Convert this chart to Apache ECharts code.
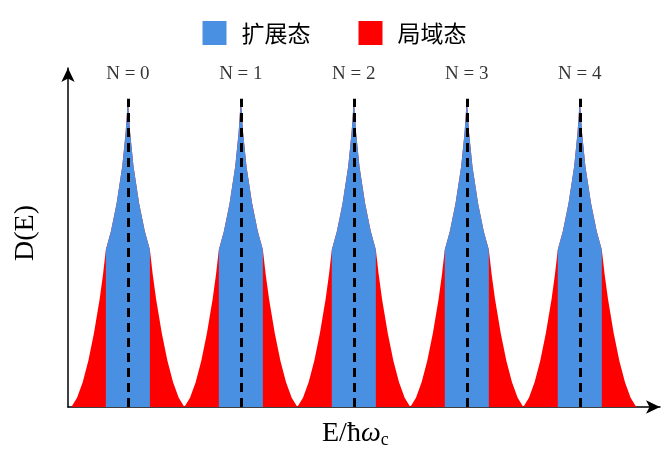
<!DOCTYPE html>
<html>
<head>
<meta charset="utf-8">
<script src="https://cdn.jsdelivr.net/npm/echarts@6/dist/echarts.min.js"></script>
<style>html,body{margin:0;background:#fff}#c{width:669px;height:467px}</style>
</head>
<body>
<div id="c"></div>
<script>
// peak centres (Landau levels)
var levels = [0, 1, 2, 3, 4];
var levelLabels = ['N = 0', 'N = 1', 'N = 2', 'N = 3', 'N = 4'];
// one side of a peak profile
var offsets = [0, 0.02, 0.05, 0.1, 0.15, 0.195, 0.22, 0.25, 0.3, 0.35, 0.4, 0.45, 0.5];
var heights = [1, 0.89, 0.78, 0.66, 0.57, 0.51, 0.43, 0.35, 0.24, 0.15, 0.08, 0.03, 0];
var mobilityEdge = 0.195;

function buildPeak(center, inner) {
    var pts = [];
    for (var i = offsets.length - 1; i >= 0; i--) {
        if (!inner || offsets[i] <= mobilityEdge) pts.push([center - offsets[i], heights[i]]);
    }
    for (var j = 1; j < offsets.length; j++) {
        if (!inner || offsets[j] <= mobilityEdge) pts.push([center + offsets[j], heights[j]]);
    }
    return pts;
}
var redData = [], blueData = [];
levels.forEach(function (c) {
    redData = redData.concat(buildPeak(c, false), [[c + 0.5, null]]);
    blueData = blueData.concat(buildPeak(c, true), [[c + 0.5, null]]);
});

var chart = echarts.init(document.getElementById('c'));
chart.setOption({
    animation: false,
    legend: {
        top: 16, left: 'center', itemWidth: 24, itemHeight: 24, itemGap: 48,
        icon: 'rect',
        textStyle: {fontFamily: 'Noto Sans CJK SC', fontSize: 23, color: '#000', padding: [0, 0, 0, 10]},
        data: ['扩展态', '局域态']
    },
    grid: {left: 68, right: 9, top: 68, bottom: 60},
    xAxis: {
        type: 'value', min: -0.53, max: 4.71,
        axisLine: {lineStyle: {color: '#000', width: 1.5}, symbol: ['none', 'arrow'], symbolSize: [10, 14]},
        axisTick: {show: false}, axisLabel: {show: false}, splitLine: {show: false}
    },
    yAxis: {
        type: 'value', min: 0, max: 1.1,
        axisLine: {show: true, onZero: false, lineStyle: {color: '#000', width: 1.5}, symbol: ['none', 'arrow'], symbolSize: [10, 14]},
        axisTick: {show: false}, axisLabel: {show: false}, splitLine: {show: false}
    },
    graphic: [
        {type: 'text', left: 12, top: 205, rotation: Math.PI / 2,
         style: {text: 'D(E)', font: '28px "Liberation Serif"', fill: '#000'}},
        {type: 'text', left: 322, top: 420,
         style: {text: '{a|E/ħ}{b|ω}{c|c}', rich: {
             a: {font: '28px "Liberation Serif"', fill: '#000'},
             b: {font: 'italic 28px "Liberation Serif"', fill: '#000'},
             c: {font: '18px "Liberation Serif"', fill: '#000', padding: [12, 0, 0, 0]}
         }}}
    ],
    series: [
        {
            name: '局域态', type: 'line', data: redData, showSymbol: false,
            connectNulls: false, color: '#ff0000',
            lineStyle: {width: 0}, areaStyle: {color: '#ff0000', opacity: 1}
        },
        {
            name: '扩展态', type: 'line', data: blueData, showSymbol: false,
            connectNulls: false, color: '#4a90e2',
            lineStyle: {width: 0}, areaStyle: {color: '#4a90e2', opacity: 1},
            markLine: {
                symbol: 'none', silent: true,
                lineStyle: {color: '#000', type: [9, 6], width: 3},
                label: {show: false},
                data: levels.map(function (c) { return [{coord: [c, 0]}, {coord: [c, 1]}]; })
            }
        },
        {
            type: 'scatter', symbolSize: 0, silent: true,
            data: levels.map(function (c) { return [c, 1.08]; }),
            label: {show: true, position: 'inside', fontFamily: 'Liberation Serif', fontSize: 19, color: '#000',
                formatter: function (p) { return levelLabels[p.dataIndex]; }}
        }
    ]
});
</script>
</body>
</html>
